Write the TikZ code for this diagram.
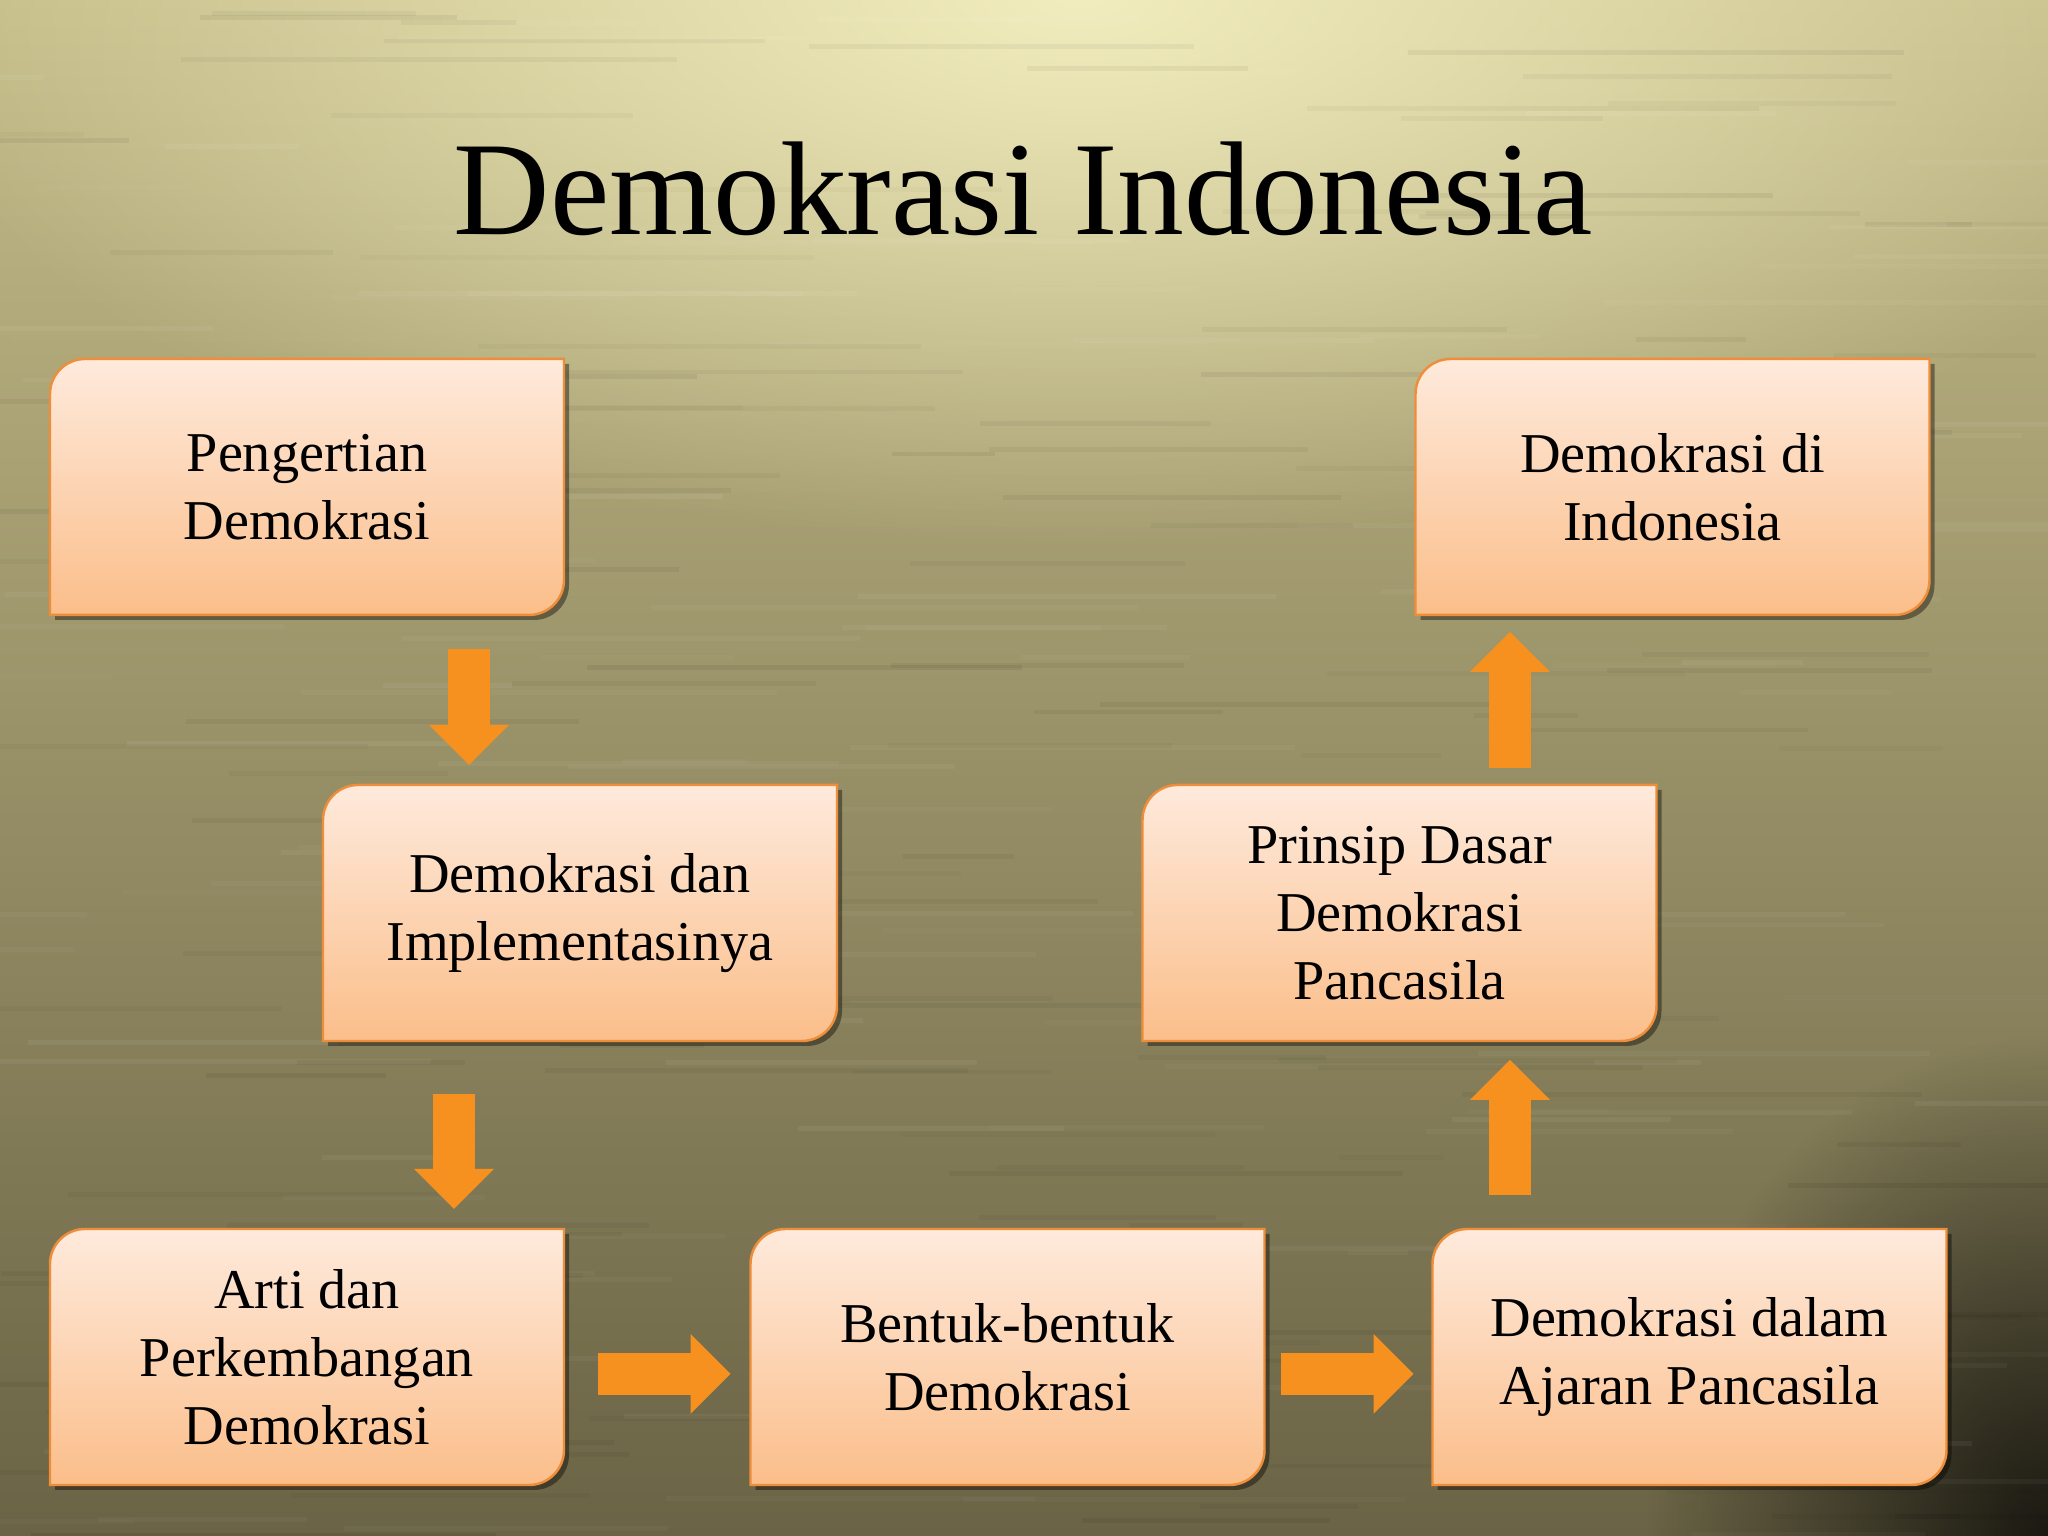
\documentclass[tikz,border=0pt]{standalone}
\usepackage{fontspec}
\setmainfont{Liberation Serif}
\usetikzlibrary{arrows.meta, shadows, fadings}

\definecolor{bgtop}{HTML}{C4BC88}
\definecolor{bgmid}{HTML}{A49B70}
\definecolor{bgbot}{HTML}{6A6345}
\definecolor{bgglow}{HTML}{F2EDBE}
\definecolor{boxtop}{HTML}{FEEADC}
\definecolor{boxbot}{HTML}{FBBE8A}
\definecolor{boxline}{HTML}{EE8E3A}
\definecolor{arrowfill}{HTML}{F6901F}

\tikzfading[name=glowfade, inner color=transparent!0, outer color=transparent!100]

\pgfdeclarelayer{bg}
\pgfdeclarelayer{boxes}
\pgfsetlayers{bg,boxes,main}

\newcommand\cornerr{0.35cm}
% box outline: rounded top left and bottom right
\newcommand\boxshape[1]{%
  \begin{pgfonlayer}{boxes}
    \path[boxfill] (#1.south west) -- ([yshift=-\cornerr]#1.north west)
      arc[start angle=180, end angle=90, radius=\cornerr] -- (#1.north east)
      -- ([yshift=\cornerr]#1.south east)
      arc[start angle=0, end angle=-90, radius=\cornerr] -- cycle;
  \end{pgfonlayer}}

\tikzset{
  stepbox/.style={minimum width=5.14cm, minimum height=2.56cm, inner sep=0pt,
    outer sep=0pt, align=center, font=\fontsize{16}{19.3}\selectfont},
  boxfill/.style={draw=boxline, line width=0.7pt, top color=boxtop, bottom color=boxbot,
    drop shadow={shadow xshift=0.05cm, shadow yshift=-0.05cm, opacity=0.4, fill=black}},
  flowarrow/.style={draw=arrowfill, line width=0.42cm,
    -{Triangle[width=0.80cm, length=0.40cm, line width=0pt]}},
}

\begin{document}
\begin{tikzpicture}
    \useasboundingbox (0,0) rectangle (20.48,15.36);
    \begin{pgfonlayer}{bg}
        \shade[top color=bgtop, middle color=bgmid, bottom color=bgbot] (0,0) rectangle (20.48,15.36);
        \fill[bgglow, path fading=glowfade] (10.8,15.4) ellipse [x radius=12, y radius=5.5];
        \fill[black, opacity=0.75, path fading=glowfade] (20.48,0) ellipse [x radius=4, y radius=5];
        % brushed streaks
        \pgfmathsetseed{11}
        \foreach \i in {1,...,260} {
            \pgfmathsetmacro\sy{rnd*15.36}
            \pgfmathsetmacro\sx{rnd*20.48-1}
            \pgfmathsetmacro\sl{1+rnd*4}
            \pgfmathsetmacro\so{0.02+rnd*0.04}
            \ifodd\i
                \draw[white, opacity=\so, line width=1.4pt] (\sx,\sy) -- ++(\sl,0);
            \else
                \draw[black, opacity=\so, line width=1.4pt] (\sx,\sy) -- ++(\sl,0);
            \fi
        }
    \end{pgfonlayer}

    \node[font=\fontsize{38}{40}\selectfont, anchor=base] (title) at (10.23,13.01) {Demokrasi Indonesia};

    \node[stepbox] (pengertian) at (3.07,10.49) {Pengertian\\Demokrasi};
    \node[stepbox] (implementasi) at (5.80,6.23) {Demokrasi dan\\Implementasinya};
    \node[stepbox] (arti) at (3.07,1.79) {Arti dan\\Perkembangan\\Demokrasi};
    \node[stepbox] (bentuk) at (10.075,1.79) {Bentuk-bentuk\\Demokrasi};
    \node[stepbox] (ajaran) at (16.895,1.79) {Demokrasi dalam\\Ajaran Pancasila};
    \node[stepbox] (prinsip) at (13.995,6.23) {Prinsip Dasar\\Demokrasi\\Pancasila};
    \node[stepbox] (indonesia) at (16.725,10.49) {Demokrasi di\\Indonesia};
    \foreach \b in {pengertian, implementasi, arti, bentuk, ajaran, prinsip, indonesia}
        \boxshape{\b};

    \coordinate (down1) at (4.69,0);
    \coordinate (down2) at (4.54,0);
    \coordinate (row) at (0,1.62);
    \coordinate (up) at (15.10,0);
    \draw[flowarrow, shorten <=0.34cm, shorten >=0.20cm] (pengertian.south -| down1) -- (implementasi.north -| down1);
    \draw[flowarrow, shorten <=0.53cm, shorten >=0.20cm] (implementasi.south -| down2) -- (arti.north -| down2);
    \draw[flowarrow, shorten <=0.34cm, shorten >=0.20cm] (arti.east |- row) -- (bentuk.west |- row);
    \draw[flowarrow, shorten <=0.16cm, shorten >=0.19cm] (bentuk.east |- row) -- (ajaran.west |- row);
    \draw[flowarrow, shorten <=0.34cm, shorten >=0.19cm] (ajaran.north -| up) -- (prinsip.south -| up);
    \draw[flowarrow, shorten <=0.17cm, shorten >=0.17cm] (prinsip.north -| up) -- (indonesia.south -| up);
\end{tikzpicture}
\end{document}
